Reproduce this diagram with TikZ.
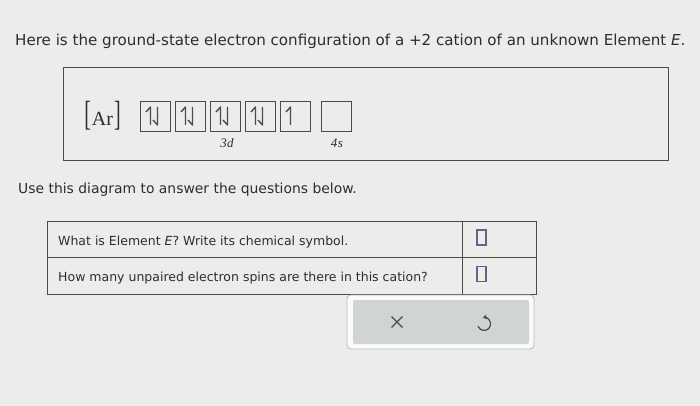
\documentclass[tikz,border=0pt]{standalone}
\usepackage{fontspec}
\setmainfont{DejaVu Sans}
\newfontfamily\orbfont{Liberation Serif}
\usetikzlibrary{arrows.meta}
\definecolor{bg}{RGB}{236,236,234}
\definecolor{ink}{RGB}{45,45,45}
\definecolor{rule}{RGB}{75,75,75}
\definecolor{ansbox}{RGB}{100,100,135}
\definecolor{btnfill}{RGB}{208,212,212}
\tikzset{
  orb/.style={draw=rule, thick, minimum width=30, minimum height=30, inner sep=0pt},
  cell/.style={draw=rule, thick, minimum height=36, inner sep=0pt},
  ansmark/.style={draw=ansbox, line width=1.3pt, minimum width=9, minimum height=15, inner sep=0pt},
  qtext/.style={anchor=base west, font=\fontsize{12.5}{15}\selectfont, text=ink, inner sep=0pt},
  sublabel/.style={text=ink, font=\orbfont\itshape\fontsize{13}{15}\selectfont},
  spinup/.pic={\draw[rule, line width=1.4pt, line join=round] (0,9) -- (0,-9) -- (-4.5,-4);},
  spindown/.pic={\draw[rule, line width=1.4pt, line join=round] (0,-9) -- (0,9) -- (-4.5,4);}
}
\begin{document}
\begin{tikzpicture}[x=1pt, y=-1pt]
\fill[bg] (0,0) rectangle (700,406);
\useasboundingbox (0,0) rectangle (700,406);
\node[anchor=base west, inner sep=0pt, text=ink, font=\fontsize{15.1}{18}\selectfont] (title) at (15,46) {Here is the ground-state electron configuration of a +2 cation of an unknown Element \textit{E}.};
\node[draw=rule, thick, minimum width=605, minimum height=93] (frame) at (365.5,113.5) {};
\node[text=ink, inner sep=0pt, font=\orbfont\fontsize{20}{22}\selectfont] (core) at (102.5,116) {\scalebox{1}[1.75]{[}\kern1pt Ar\kern1pt\scalebox{1}[1.75]{]}};
\node[orb] (d1) at (155,116) {};
\node[orb] (d2) at (190,116) {};
\node[orb] (d3) at (225,116) {};
\node[orb] (d4) at (260,116) {};
\node[orb] (d5) at (295,116) {};
\node[orb] (s1) at (336.5,116) {};
\pic at (150.5,116) {spinup};   \pic at (157.5,116) {spindown};
\pic at (185.5,116) {spinup};   \pic at (192.5,116) {spindown};
\pic at (220.5,116) {spinup};   \pic at (227.5,116) {spindown};
\pic at (255.5,116) {spinup};   \pic at (262.5,116) {spindown};
\pic at (290.5,116) {spinup};
\node[sublabel] (lab3d) at (227,143) {3\kern0.5pt d};
\node[sublabel] (lab4s) at (337,143) {4\kern0.5pt s};
\node[anchor=base west, inner sep=0pt, text=ink, font=\fontsize{13.9}{17}\selectfont] (intro) at (18,193) {Use this diagram to answer the questions below.};
\node[cell, minimum width=415] (q1) at (254.5,239) {};
\node[cell, minimum width=74] (a1) at (499,239) {};
\node[cell, minimum width=415, minimum height=37] (q2) at (254.5,275.5) {};
\node[cell, minimum width=74, minimum height=37] (a2) at (499,275.5) {};
\node[qtext] (q1text) at (58,245) {What is Element \textit{E}? Write its chemical symbol.};
\node[qtext] (q2text) at (58,281) {How many unpaired electron spins are there in this cation?};
\node[ansmark] (m1) at (481.5,237.5) {};
\node[ansmark] (m2) at (481.5,274) {};
\node[draw=gray!55, fill=gray!4, thick, rounded corners=4, minimum width=187, minimum height=54] (panel) at (440.5,322) {};
\node[fill=btnfill, rounded corners=2, minimum width=176, minimum height=44] (btns) at (441,322) {};
\draw[rule, line width=1.2pt] (391.5,316.5) -- (402.5,327.5) (391.5,327.5) -- (402.5,316.5);
\draw[rule, line width=1.2pt, {Stealth[length=4pt,width=5pt]}-] (484,324) ++(-100:6.5) arc[start angle=-100, end angle=160, radius=6.5];
\end{tikzpicture}
\end{document}
